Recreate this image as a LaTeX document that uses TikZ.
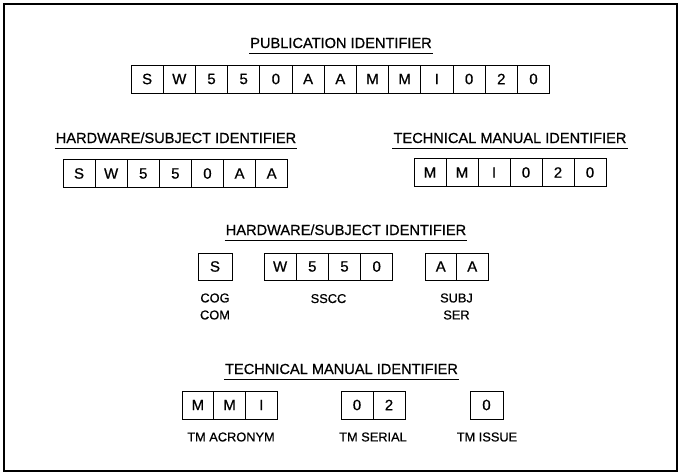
\documentclass[tikz,border=0pt]{standalone}
\usepackage{fontspec}
\setmainfont{Liberation Sans}[FakeBold=0.7]
\newcommand{\cv}[1]{\raisebox{-2.5pt}{#1}}
\begin{document}
\begin{tikzpicture}[x=1pt,y=-1pt,
  cell/.style={draw, line width=1pt, minimum height=28pt, inner sep=0pt, font=\fontsize{15}{17}\selectfont},
  ttl/.style={anchor=base, inner sep=0pt, font=\fontsize{14.6}{17}\selectfont},
  lbl/.style={align=center, inner sep=0pt, font=\fontsize{12.8}{17}\selectfont},
  uline/.style={line width=1pt}]
\useasboundingbox (0,0) rectangle (680,474);
\draw[line width=2pt] (4,4) rectangle (677,471);
% titles
\node[ttl] (t1) at (341,48) {PUBLICATION IDENTIFIER};
\node[ttl] (t2) at (176,143) {HARDWARE/SUBJECT IDENTIFIER};
\node[ttl] (t3) at (510,143) {TECHNICAL MANUAL IDENTIFIER};
\node[ttl] (t4) at (346,235) {HARDWARE/SUBJECT IDENTIFIER};
\node[ttl] (t5) at (341.5,374) {TECHNICAL MANUAL IDENTIFIER};
\foreach \t in {t1,t2,t3,t4,t5}
  \draw[uline] ([xshift=-1pt,yshift=-5pt]\t.base west) -- ([xshift=1pt,yshift=-5pt]\t.base east);
% row 1
\foreach \c [count=\i] in {S,W,5,5,0,A,A,M,M,I,0,2,0}
  \node[cell, minimum width=32.2pt] (p\i) at ({131+32.2*(\i-0.5)},79) {\cv{\c}};
% row 2
\foreach \c [count=\i] in {S,W,5,5,0,A,A}
  \node[cell, minimum width=32.1pt] (h\i) at ({63+32.1*(\i-0.5)},173.5) {\cv{\c}};
\foreach \c [count=\i] in {M,M,I,0,2,0}
  \node[cell, minimum width=32pt] (m\i) at ({414+32*(\i-0.5)},172.5) {\cv{\c}};
% row 3
\node[cell, minimum width=34pt, minimum height=27pt] (cog) at (215,266.5) {\cv{S}};
\foreach \c [count=\i] in {W,5,5,0}
  \node[cell, minimum width=32.2pt, minimum height=27pt] (s\i) at ({264+32.2*(\i-0.5)},266.5) {\cv{\c}};
\foreach \c [count=\i] in {A,A}
  \node[cell, minimum width=31.5pt, minimum height=27pt] (a\i) at ({425+31.5*(\i-0.5)},266.5) {\cv{\c}};
\node[lbl] (lcog) at (215,306.5) {COG\\COM};
\node[lbl, anchor=base] (lsscc) at (328.5,303) {SSCC};
\node[lbl] (lsubj) at (456.5,306.5) {SUBJ\\SER};
% row 4
\foreach \c [count=\i] in {M,M,I}
  \node[cell, minimum width=31.7pt] (r\i) at ({182+31.7*(\i-0.5)},405) {\cv{\c}};
\foreach \c [count=\i] in {0,2}
  \node[cell, minimum width=32pt] (n\i) at ({341+32*(\i-0.5)},405) {\cv{\c}};
\node[cell, minimum width=33pt] (iss) at (486.5,405) {\cv{0}};
\node[lbl] (lacr) at (231,437) {TM ACRONYM};
\node[lbl] (lser) at (373,437) {TM SERIAL};
\node[lbl] (liss) at (487,437) {TM ISSUE};
\end{tikzpicture}
\end{document}
